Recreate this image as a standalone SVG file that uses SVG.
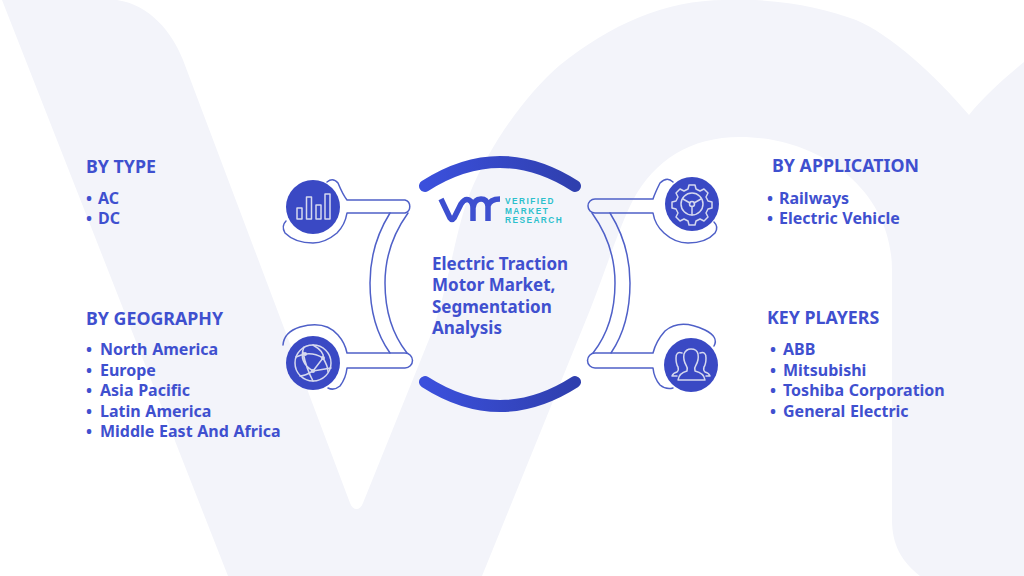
<svg xmlns="http://www.w3.org/2000/svg" width="1024" height="576" viewBox="0 0 1024 576">
<defs>
<linearGradient id="arc" x1="0" y1="0" x2="1" y2="0"><stop offset="0" stop-color="#3b50dc"/><stop offset="1" stop-color="#2f3fae"/></linearGradient>
<style>
text{font-family:"Noto Sans","Open Sans","Liberation Sans",sans-serif;font-weight:700;fill:#3f50cf}
.h{font-size:17.800px}
.l{font-size:16px;word-spacing:.5px}
.t{font-size:17px}
.b{fill:none;stroke:#4f60c8;stroke-width:1.5;stroke-linecap:round;stroke-linejoin:round}
.c{fill:#3a49c4}
.i{fill:none;stroke:#d5d8ee;stroke-width:1.5;stroke-linejoin:round;stroke-linecap:round}
.d{fill:#d5d8ee}
text.g{font-family:"Liberation Sans",sans-serif;font-size:8.300px;font-weight:700;fill:#2cc0cc;letter-spacing:1.450px}
</style>
</defs>
<rect width="1024" height="576" fill="#ffffff"/>
<path id="bg" fill="#f3f4fa" d="M2 0 H117 C150 5 172 32 183 60 L350 503 C353 511 360 511 363 503 L430 337 C448 292 455 230 470 193 C490 145 525 95 560 65 C610 25 665 0 725 0 H755 C795 2 830 10 856 20 C890 34 935 75 969 115 C985 95 1005 78 1024 62 V576 H920 C902 562 892 545 892 520 V270 C892 190 820 137 740 137 C690 137 655 160 633 200 C620 225 605 272 590 310 L482 576 H228 Z"/>
<g id="connectors">
<path class="b" d="M327 182 Q333 177 338 183 Q343 195 347 200 H405 A6.800 6.800 0 0 1 405 213 H347 Q345 225 337 233 Q325 243 313 243 Q295 243 285 233 Q281 226 286 221"/>
<path class="b" d="M390 213 Q370 245 370 283 Q370 325 390 353"/>
<path class="b" d="M408 213 Q385 245 385 283 Q385 325 407 353"/>
<path class="b" d="M283 345 Q284 332 300 327 Q325 320 338 335 Q345 343 347 353 H405 A7.500 7.500 0 0 1 405 368 H347 Q346 378 340 386 Q334 391 328 388"/>
<path class="b" d="M673 182 Q667 176 660 183 Q655 193 653 199 H595 A7 7 0 0 0 595 213 H653 Q655 225 664 233 Q675 243 688 243 Q706 243 715 233 Q719 227 714 222"/>
<path class="b" d="M610 213 Q630 245 630 283 Q630 325 611 353"/>
<path class="b" d="M592 213 Q615 245 615 283 Q615 325 593 353"/>
<path class="b" d="M714 346 Q719 337 705 330 Q680 318 665 331 Q656 341 653 353 H595 A7.500 7.500 0 0 0 595 368 H653 Q654 378 660 385 Q666 390 673 388"/>
<path d="M425 186 Q500 138 575 186" fill="none" stroke="url(#arc)" stroke-width="12" stroke-linecap="round"/>
<path d="M425 382 Q500 430 575 382" fill="none" stroke="url(#arc)" stroke-width="12" stroke-linecap="round"/>
</g>
<g id="node-center">
<path d="M441 199 L450 218 Q452 221 454 218 L461 204 Q465 198 469 200 Q473 202 473 208 V221 M473 208 Q474 199 481 199 Q487 199 488 206 V221 M488 206 Q490 199 500 199" fill="none" stroke="#3d4fd0" stroke-width="5.500"/>
<text class="g" x="505" y="204">VERIFIED</text>
<text class="g" x="505" y="213.500">MARKET</text>
<text class="g" x="505" y="223">RESEARCH</text>
<text class="t" x="432" y="269.500">Electric Traction</text>
<text class="t" x="432" y="291">Motor Market,</text>
<text class="t" x="432" y="312.500">Segmentation</text>
<text class="t" x="432" y="334">Analysis</text>
</g>
<g id="node-type">
<circle class="c" cx="313" cy="207" r="27"/>
<path class="i" d="M297 208h5v11h-5zM306.500 197h5v22h-5zM316 205h5v14h-5zM325 194h5v25h-5z"/>
<text class="h" x="86" y="172.500">BY TYPE</text>
<text class="l" y="204"><tspan x="86">•</tspan><tspan x="98">AC</tspan></text>
<text class="l" y="224"><tspan x="86">•</tspan><tspan x="98">DC</tspan></text>
</g>
<g id="node-geography">
<circle class="c" cx="313" cy="363" r="27"/>
<circle class="i" cx="313" cy="363" r="18"/>
<path class="i" d="M304 347 Q298 362 313 371 L331 368 M313 345 Q325 352 323 358 L313 371 Q305 376 300 376 M296 357 Q310 350 323 358 Q328 366 328 372 M303 352 Q306 368 313 381"/>
<circle class="d" cx="323" cy="358" r="2"/><circle class="d" cx="313" cy="371" r="2"/><circle class="d" cx="305" cy="354" r="2"/>
<text class="h" x="86" y="324.500">BY GEOGRAPHY</text>
<text class="l" y="355"><tspan x="86">•</tspan><tspan x="100">North America</tspan></text>
<text class="l" y="375.500"><tspan x="86">•</tspan><tspan x="100">Europe</tspan></text>
<text class="l" y="396"><tspan x="86">•</tspan><tspan x="100">Asia Pacific</tspan></text>
<text class="l" y="416.500"><tspan x="86">•</tspan><tspan x="100">Latin America</tspan></text>
<text class="l" y="437"><tspan x="86">•</tspan><tspan x="100">Middle East And Africa</tspan></text>
</g>
<g id="node-application">
<circle class="c" cx="692" cy="204" r="27"/>
<circle class="i" cx="692" cy="204" r="11"/>
<circle class="i" cx="692" cy="204" r="2.500"/>
<path class="i" d="M683 199 L690 203 M701 199 L694 203 M692 206.500 V215"/>
<path class="i" d="M689 185h6l1 4 4 2 4-2 4 4-2 4 2 4 4 1v6l-4 1-2 4 2 4-4 4-4-2-4 2-1 4h-6l-1-4-4-2-4 2-4-4 2-4-2-4-4-1v-6l4-1 2-4-2-4 4-4 4 2 4-2z"/>
<text class="h" x="772" y="171.500">BY APPLICATION</text>
<text class="l" y="204"><tspan x="767">•</tspan><tspan x="779">Railways</tspan></text>
<text class="l" y="224"><tspan x="767">•</tspan><tspan x="779">Electric Vehicle</tspan></text>
</g>
<g id="node-players">
<circle class="c" cx="691" cy="365" r="27"/>
<path class="i" d="M678 380 Q679 373 687 371 Q688 368 686 365 Q683 360 684 354 Q686 349 691 349 Q697 349 698 354 Q699 360 696 365 Q694 368 695 371 Q704 373 705 380 Z"/>
<path class="i" d="M682 353 Q676 351 676 358 Q676 364 678 367 Q679 370 677 372 Q673 373 672 376 L677 376 M700 353 Q706 351 706 358 Q706 364 704 367 Q703 370 705 372 Q709 373 710 376 L706 376"/>
<text class="h" x="767" y="323.500">KEY PLAYERS</text>
<text class="l" y="355"><tspan x="770">•</tspan><tspan x="783">ABB</tspan></text>
<text class="l" y="375.500"><tspan x="770">•</tspan><tspan x="783">Mitsubishi</tspan></text>
<text class="l" y="396"><tspan x="770">•</tspan><tspan x="783">Toshiba Corporation</tspan></text>
<text class="l" y="416.500"><tspan x="770">•</tspan><tspan x="783">General Electric</tspan></text>
</g>
</svg>
